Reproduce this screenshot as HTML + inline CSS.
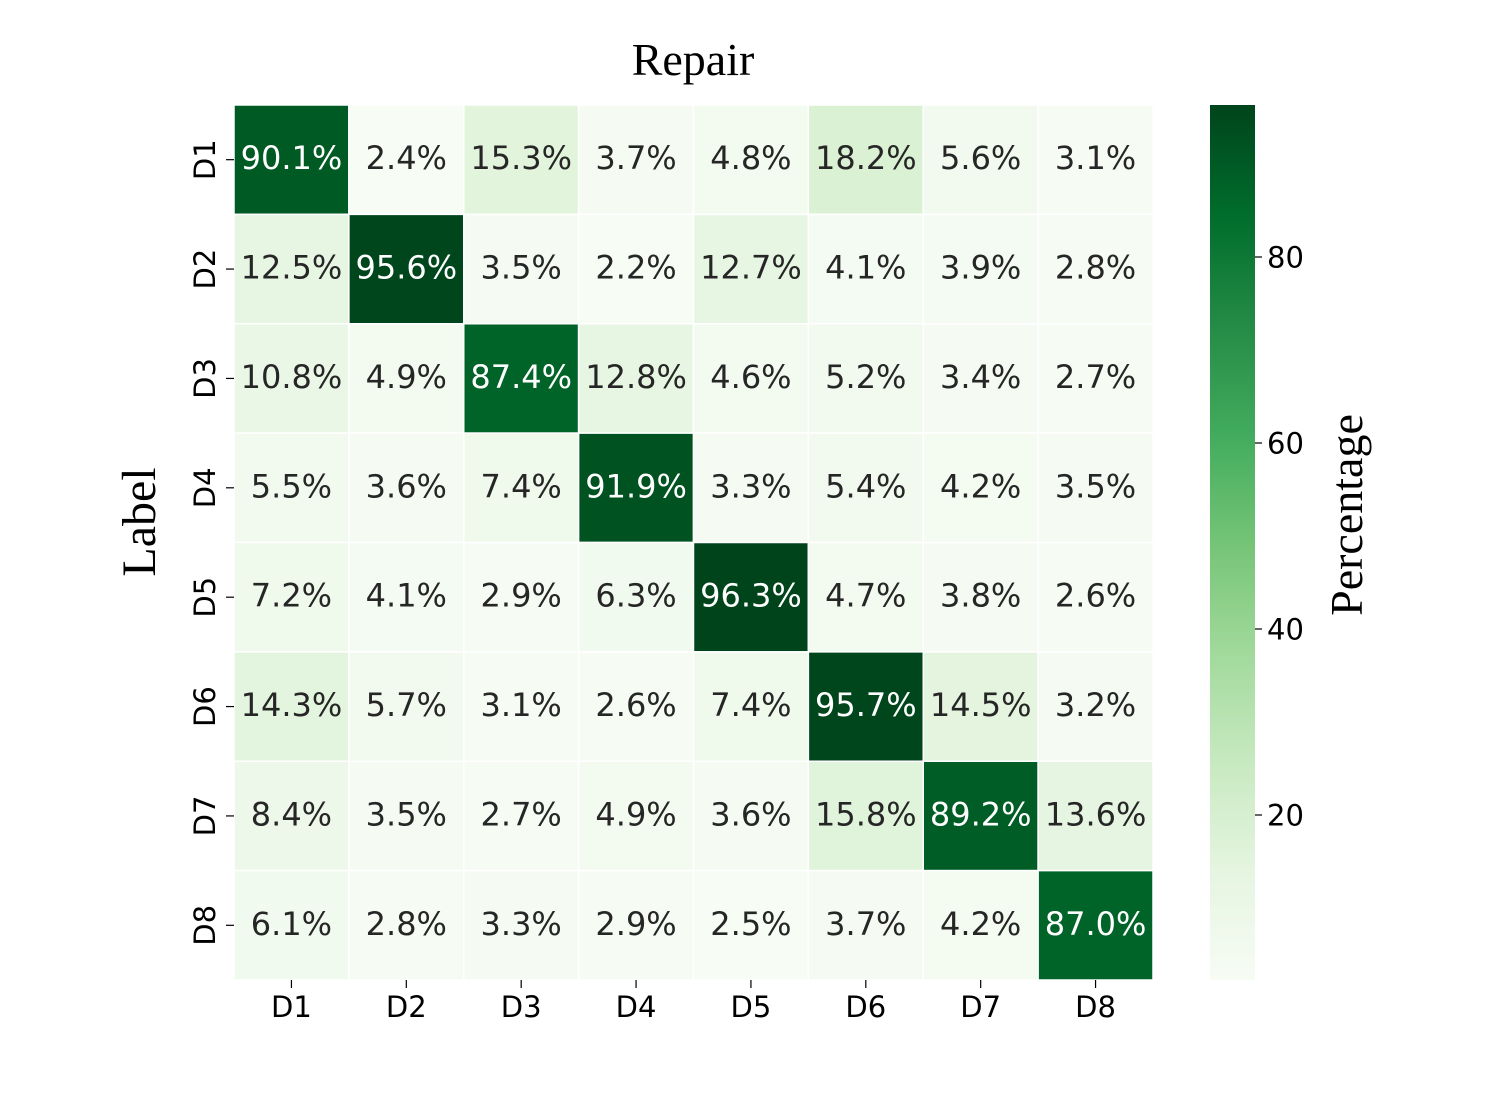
<!DOCTYPE html>
<html><head><meta charset="utf-8"><style>
html,body{margin:0;padding:0;background:#fff;}
svg{display:block;}
</style></head><body>
<svg id="s" xmlns="http://www.w3.org/2000/svg" width="1488" height="1116" viewBox="0 0 1488 1116">
<defs>
<linearGradient id="g" x1="0" y1="1" x2="0" y2="0">
<stop offset="0" stop-color="#f7fcf5"/><stop offset="0.125" stop-color="#e5f5e0"/>
<stop offset="0.25" stop-color="#c7e9c0"/><stop offset="0.375" stop-color="#a1d99b"/>
<stop offset="0.5" stop-color="#74c476"/><stop offset="0.625" stop-color="#41ab5d"/>
<stop offset="0.75" stop-color="#238b45"/><stop offset="0.875" stop-color="#006d2c"/>
<stop offset="1" stop-color="#00441b"/>
</linearGradient>
</defs>
<text x="693" y="75" font-family="Liberation Serif, serif" font-size="46" text-anchor="middle">Repair</text>
<text transform="translate(155,522) rotate(-90)" font-family="Liberation Serif, serif" font-size="48" text-anchor="middle">Label</text>
<text transform="translate(1362,515) rotate(-90)" font-family="Liberation Serif, serif" font-size="46" text-anchor="middle">Percentage</text>
<rect x="1210" y="105" width="45" height="875" fill="url(#g)"/>
<g id="h"></g>
</svg>
<script>
var d=[[90.1,2.4,15.3,3.7,4.8,18.2,5.6,3.1],[12.5,95.6,3.5,2.2,12.7,4.1,3.9,2.8],[10.8,4.9,87.4,12.8,4.6,5.2,3.4,2.7],[5.5,3.6,7.4,91.9,3.3,5.4,4.2,3.5],[7.2,4.1,2.9,6.3,96.3,4.7,3.8,2.6],[14.3,5.7,3.1,2.6,7.4,95.7,14.5,3.2],[8.4,3.5,2.7,4.9,3.6,15.8,89.2,13.6],[6.1,2.8,3.3,2.9,2.5,3.7,4.2,87.0]];
var cm=[[247,252,245],[229,245,224],[199,233,192],[161,217,155],[116,196,118],[65,171,93],[35,139,69],[0,109,44],[0,68,27]];
function col(v){var t=(v-2.2)/94.1;t=Math.max(0,Math.min(1,t));var p=t*8,i=Math.min(7,Math.floor(p)),f=p-i;var c=[0,1,2].map(function(k){return Math.round(cm[i][k]+(cm[i+1][k]-cm[i][k])*f)});return 'rgb('+c.join(',')+')';}
var s='',x0=234,y0=105,w=919/8,h=875/8,F='font-family="DejaVu Sans, sans-serif"';
for(var r=0;r<8;r++)for(var c=0;c<8;c++){var v=d[r][c],x=x0+c*w,y=y0+r*h;
s+='<rect x="'+x+'" y="'+y+'" width="'+w+'" height="'+h+'" fill="'+col(v)+'" stroke="#fff" stroke-width="1.5"/>';
s+='<text x="'+(x+w/2)+'" y="'+(y+h/2+9.5)+'" '+F+' font-size="32" text-anchor="middle" fill="'+(v>50?'#fff':'#262626')+'">'+v.toFixed(1)+'%</text>';}
for(var i=0;i<8;i++){var cy=y0+i*h+h/2,cx=x0+i*w+w/2;
s+='<line x1="226" x2="234" y1="'+cy+'" y2="'+cy+'" stroke="#000" stroke-width="1.2"/>';
s+='<text transform="translate('+(215)+','+cy+') rotate(-90)" '+F+' font-size="29" text-anchor="middle">D'+(i+1)+'</text>';
s+='<line x1="'+cx+'" x2="'+cx+'" y1="980" y2="988" stroke="#000" stroke-width="1.2"/>';
s+='<text x="'+cx+'" y="1017" '+F+' font-size="29" text-anchor="middle">D'+(i+1)+'</text>';}
[20,40,60,80].forEach(function(v){var y=815-(v-20)*9.3;
s+='<line x1="1255" x2="1262" y1="'+y+'" y2="'+y+'" stroke="#000" stroke-width="1.2"/>';
s+='<text x="1267" y="'+(y+10.5)+'" '+F+' font-size="29">'+v+'</text>';});
document.getElementById('h').innerHTML=s;
</script>
</body></html>
